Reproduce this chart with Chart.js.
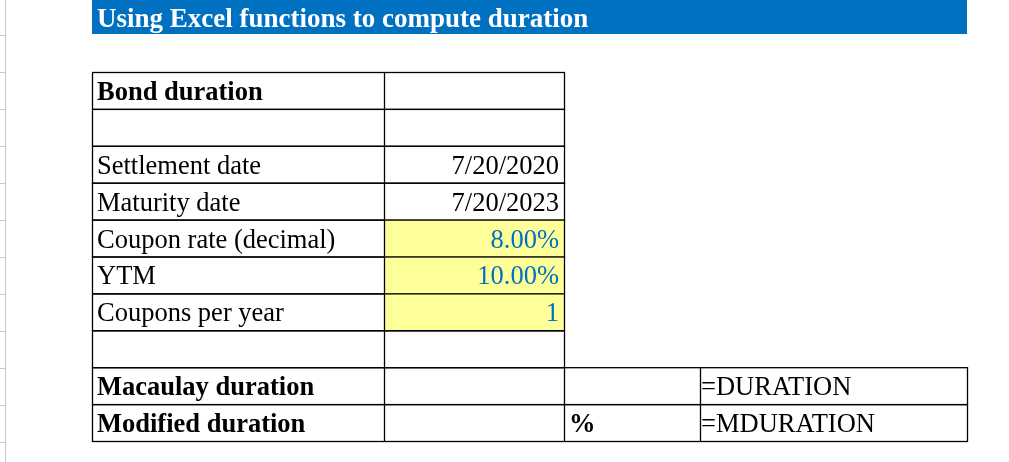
<!DOCTYPE html>
<html><head><meta charset="utf-8">
<script src="https://cdn.jsdelivr.net/npm/chart.js@4/dist/chart.umd.min.js"></script>
<style>html,body{margin:0;padding:0;background:#fff}#w{width:1009px;height:462px}</style>
</head><body><div id="w"><canvas id="c" width="1009" height="462"></canvas></div>
<script>
const title = "Using Excel functions to compute duration";
const labels = ["Bond duration","","Settlement date","Maturity date","Coupon rate (decimal)","YTM","Coupons per year","","Macaulay duration","Modified duration"];
const values = ["","","7/20/2020","7/20/2023","8.00%","10.00%","1","","",""];
const inputRows = [4,5,6];
const boldRows = [0,8,9];
const col3 = ["","","","","","","","","","%"];
const col4 = ["","","","","","","","","=DURATION","=MDURATION"];

const tablePlugin = {
  id:'table',
  afterDraw(chart){
    const ctx = chart.ctx, xs = chart.scales.x, ys = chart.scales.y;
    const X = v=>xs.getPixelForValue(v), Y = v=>ys.getPixelForValue(v);
    ctx.save();
    ctx.strokeStyle='#c8c8c8'; ctx.lineWidth=1;
    ctx.beginPath(); ctx.moveTo(X(5.5),Y(0)); ctx.lineTo(X(5.5),Y(462)); ctx.stroke();
    for(let y=35;y<462;y+=37){ctx.beginPath();ctx.moveTo(X(0),Y(y)+.5);ctx.lineTo(X(5),Y(y)+.5);ctx.stroke();}
    ctx.fillStyle='#0070C0'; ctx.fillRect(X(92),Y(0),X(967)-X(92),Y(34)-Y(0));
    ctx.fillStyle='#fff'; ctx.font='bold 27px "Liberation Serif"'; ctx.textBaseline='alphabetic';
    ctx.fillText(title,X(97),Y(27));
    const top=72, rh=36.9;
    const cx=[92,384,564,700,967];
    labels.forEach((lab,i)=>{
      const y0=top+i*rh, y1=y0+rh;
      if(inputRows.includes(i)){ctx.fillStyle='#FFFF99';ctx.fillRect(X(cx[1]),Y(y0),X(cx[2])-X(cx[1]),Y(y1)-Y(y0));}
      const ends = i>=8?cx:cx.slice(0,3);
      ctx.strokeStyle='#000'; ctx.lineWidth=1.3;
      ctx.strokeRect(X(ends[0])+.5,Y(y0)+.5,X(ends[ends.length-1])-X(ends[0]),Y(y1)-Y(y0));
      ends.slice(1,-1).forEach(e=>{ctx.beginPath();ctx.moveTo(X(e)+.5,Y(y0));ctx.lineTo(X(e)+.5,Y(y1));ctx.stroke();});
      const by=Y(y1)-9;
      ctx.fillStyle='#000'; ctx.textAlign='left';
      ctx.font=(boldRows.includes(i)?'bold ':'')+'26.5px "Liberation Serif"';
      ctx.fillText(lab,X(97),by);
      ctx.font='26.5px "Liberation Serif"';
      if(values[i]){ctx.textAlign='right';ctx.fillStyle=inputRows.includes(i)?'#0070C0':'#000';ctx.fillText(values[i],X(559),by);}
      ctx.fillStyle='#000'; ctx.textAlign='left';
      if(col3[i]){ctx.font='bold 26.5px "Liberation Serif"';ctx.fillText(col3[i],X(569),by);ctx.font='26.5px "Liberation Serif"';}
      if(col4[i]) ctx.fillText(col4[i],X(701),by);
    });
    ctx.restore();
  }
};
new Chart(document.getElementById('c'),{
  type:'scatter',
  data:{datasets:[{data:[]}]},
  options:{responsive:false,animation:false,layout:{padding:0},
    plugins:{legend:{display:false},tooltip:{enabled:false}},
    scales:{x:{type:'linear',min:0,max:1009,display:false},y:{type:'linear',min:0,max:462,reverse:true,display:false}}},
  plugins:[tablePlugin]
});
</script></body></html>
